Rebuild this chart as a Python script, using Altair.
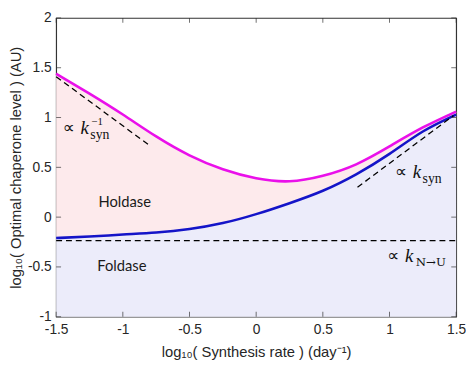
import altair as alt
import pandas as pd

# ---- data ----
x_grid = [-1.5, -1.25, -1.0, -0.75, -0.5, -0.25, 0.0, 0.25, 0.5, 0.75, 1.0, 1.25, 1.5]
holdase_curve = [1.44, 1.24, 1.03, 0.81, 0.62, 0.48, 0.39, 0.36, 0.415, 0.53, 0.71, 0.90, 1.06]   # magenta
foldase_curve = [-0.21, -0.195, -0.175, -0.155, -0.12, -0.06, 0.03, 0.14, 0.265, 0.43, 0.635, 0.86, 1.03]  # blue

# dashed asymptotes (segment endpoints)
dash_seg = ["inv", "inv", "lin", "lin", "flat", "flat"]
dash_x = [-1.5, -0.79, 0.76, 1.48, -1.5, 1.5]
dash_y = [1.41, 0.71, 0.30, 1.02, -0.235, -0.235]

x_ticks = [-1.5, -1.0, -0.5, 0.0, 0.5, 1.0, 1.5]
y_ticks = [-1.0, -0.5, 0.0, 0.5, 1.0, 1.5, 2.0]

region_labels = ["Holdase", "Foldase"]
region_x = [-0.986, -1.007]
region_y = [0.154, -0.49]

# math annotations: anchor (x, y) in data units
ann_id = ["A", "B", "C"]
ann_x = [-1.45, 1.042, 0.983]
ann_y = [0.83, 0.39, -0.45]

FONT = "Liberation Sans"
SERIF = "Liberation Serif"
X_TITLE = "log₁₀( Synthesis rate ) (day⁻¹)"
Y_TITLE = "log₁₀( Optimal chaperone level ) (AU)"

df = pd.DataFrame({"x": x_grid, "mag": holdase_curve, "blue": foldase_curve})
dash_df = pd.DataFrame({"seg": dash_seg, "x": dash_x, "y": dash_y})
xt_df = pd.DataFrame({"xt": x_ticks})
yt_df = pd.DataFrame({"yt": y_ticks})
reg_df = pd.DataFrame({"label": region_labels, "x": region_x, "y": region_y})
ann_df = pd.DataFrame({"id": ann_id, "x": ann_x, "y": ann_y})

xs = alt.Scale(domain=[-1.5, 1.5], nice=False, zero=False)
ys = alt.Scale(domain=[-1, 2], nice=False, zero=False)

x_axis = alt.Axis(values=x_ticks, labelExpr="'' + datum.value", ticks=False, domain=False,
                  grid=False, labelPadding=6, titlePadding=8, labelFlush=False)
y_axis = alt.Axis(values=y_ticks, labelExpr="'' + datum.value", ticks=False, domain=False,
                  grid=False, labelPadding=5, titlePadding=4, labelFlush=False)

X = lambda f: alt.X(f, type="quantitative", scale=xs, axis=x_axis, title=X_TITLE)
Y = lambda f: alt.Y(f, type="quantitative", scale=ys, axis=y_axis, title=Y_TITLE)

INTERP = "natural"
base = alt.Chart(df)

lav = base.mark_area(color="#ececfa", interpolate=INTERP).encode(
    x=X("x"), y=Y("blue"), y2=alt.datum(-1),
)
pink = base.mark_area(color="#fdeaec", interpolate=INTERP).encode(
    x=X("x"), y=Y("mag"), y2="blue:Q"
)
mag_line = base.mark_line(color="#ea10ea", strokeWidth=2.6, interpolate=INTERP).encode(
    x=X("x"), y=Y("mag")
)
blue_line = base.mark_line(color="#1414c8", strokeWidth=2.6, interpolate=INTERP).encode(
    x=X("x"), y=Y("blue")
)
dashes = alt.Chart(dash_df).mark_line(color="black", strokeWidth=1.3, strokeDash=[6, 4]).encode(
    x=X("x"), y=Y("y"), detail="seg:N"
)

# inward ticks on all four sides of the box
tick_kw = dict(color="#333", thickness=1, size=5)
tb = alt.Chart(xt_df).mark_tick(orient="vertical", yOffset=-2.5, **tick_kw).encode(
    x=X("xt"), y=alt.datum(-1))
tt = alt.Chart(xt_df).mark_tick(orient="vertical", yOffset=2.5, **tick_kw).encode(
    x=X("xt"), y=alt.datum(2))
tl = alt.Chart(yt_df).mark_tick(orient="horizontal", xOffset=2.5, **tick_kw).encode(
    y=Y("yt"), x=alt.datum(-1.5))
tr = alt.Chart(yt_df).mark_tick(orient="horizontal", xOffset=-2.5, **tick_kw).encode(
    y=Y("yt"), x=alt.datum(1.5))

regions = alt.Chart(reg_df).mark_text(font="Lato", fontSize=15, color="#1a1a1a",
                                      align="center", baseline="middle").encode(
    x=X("x"), y=Y("y"), text="label:N")


def ann(ident, text, dx, dy, size, font=SERIF, style="normal"):
    return alt.Chart(ann_df).transform_filter(alt.datum.id == ident).mark_text(
        text=text, dx=dx, dy=dy, fontSize=size, font=font, fontStyle=style,
        align="left", baseline="alphabetic", color="#111"
    ).encode(x=X("x"), y=Y("y"))


texts = [
    ann("A", "∝", 0, -1, 17, font="DejaVu Sans"),
    ann("A", "k", 18, 0, 19, style="italic"),
    ann("A", "syn", 28, 5, 14),
    ann("A", "−1", 29, -10, 11),
    ann("B", "∝", 0, -1, 17, font="DejaVu Sans"),
    ann("B", "k", 18, 0, 19, style="italic"),
    ann("B", "syn", 28, 5, 14),
    ann("C", "∝", 0, -1, 17, font="DejaVu Sans"),
    ann("C", "k", 18, 0, 19, style="italic"),
    ann("C", "N→U", 29, 4, 12, font="DejaVu Serif"),
]

chart = alt.layer(lav, pink, mag_line, blue_line, dashes, tb, tt, tl, tr, regions, *texts).properties(
    width=466, height=356, background="white",
    autosize=alt.AutoSizeParams(type="fit", contains="padding"),
    padding={"left": 0, "top": 0, "right": 0, "bottom": 2}
).configure_view(stroke="#333", strokeWidth=1.2).configure_axis(
    labelFont=FONT, labelFontSize=14, labelColor="#262626",
    titleFont=FONT, titleFontSize=15, titleFontWeight="normal", titleColor="#262626"
)

chart.save("out.html", embed_options={"renderer": "svg", "actions": False})
